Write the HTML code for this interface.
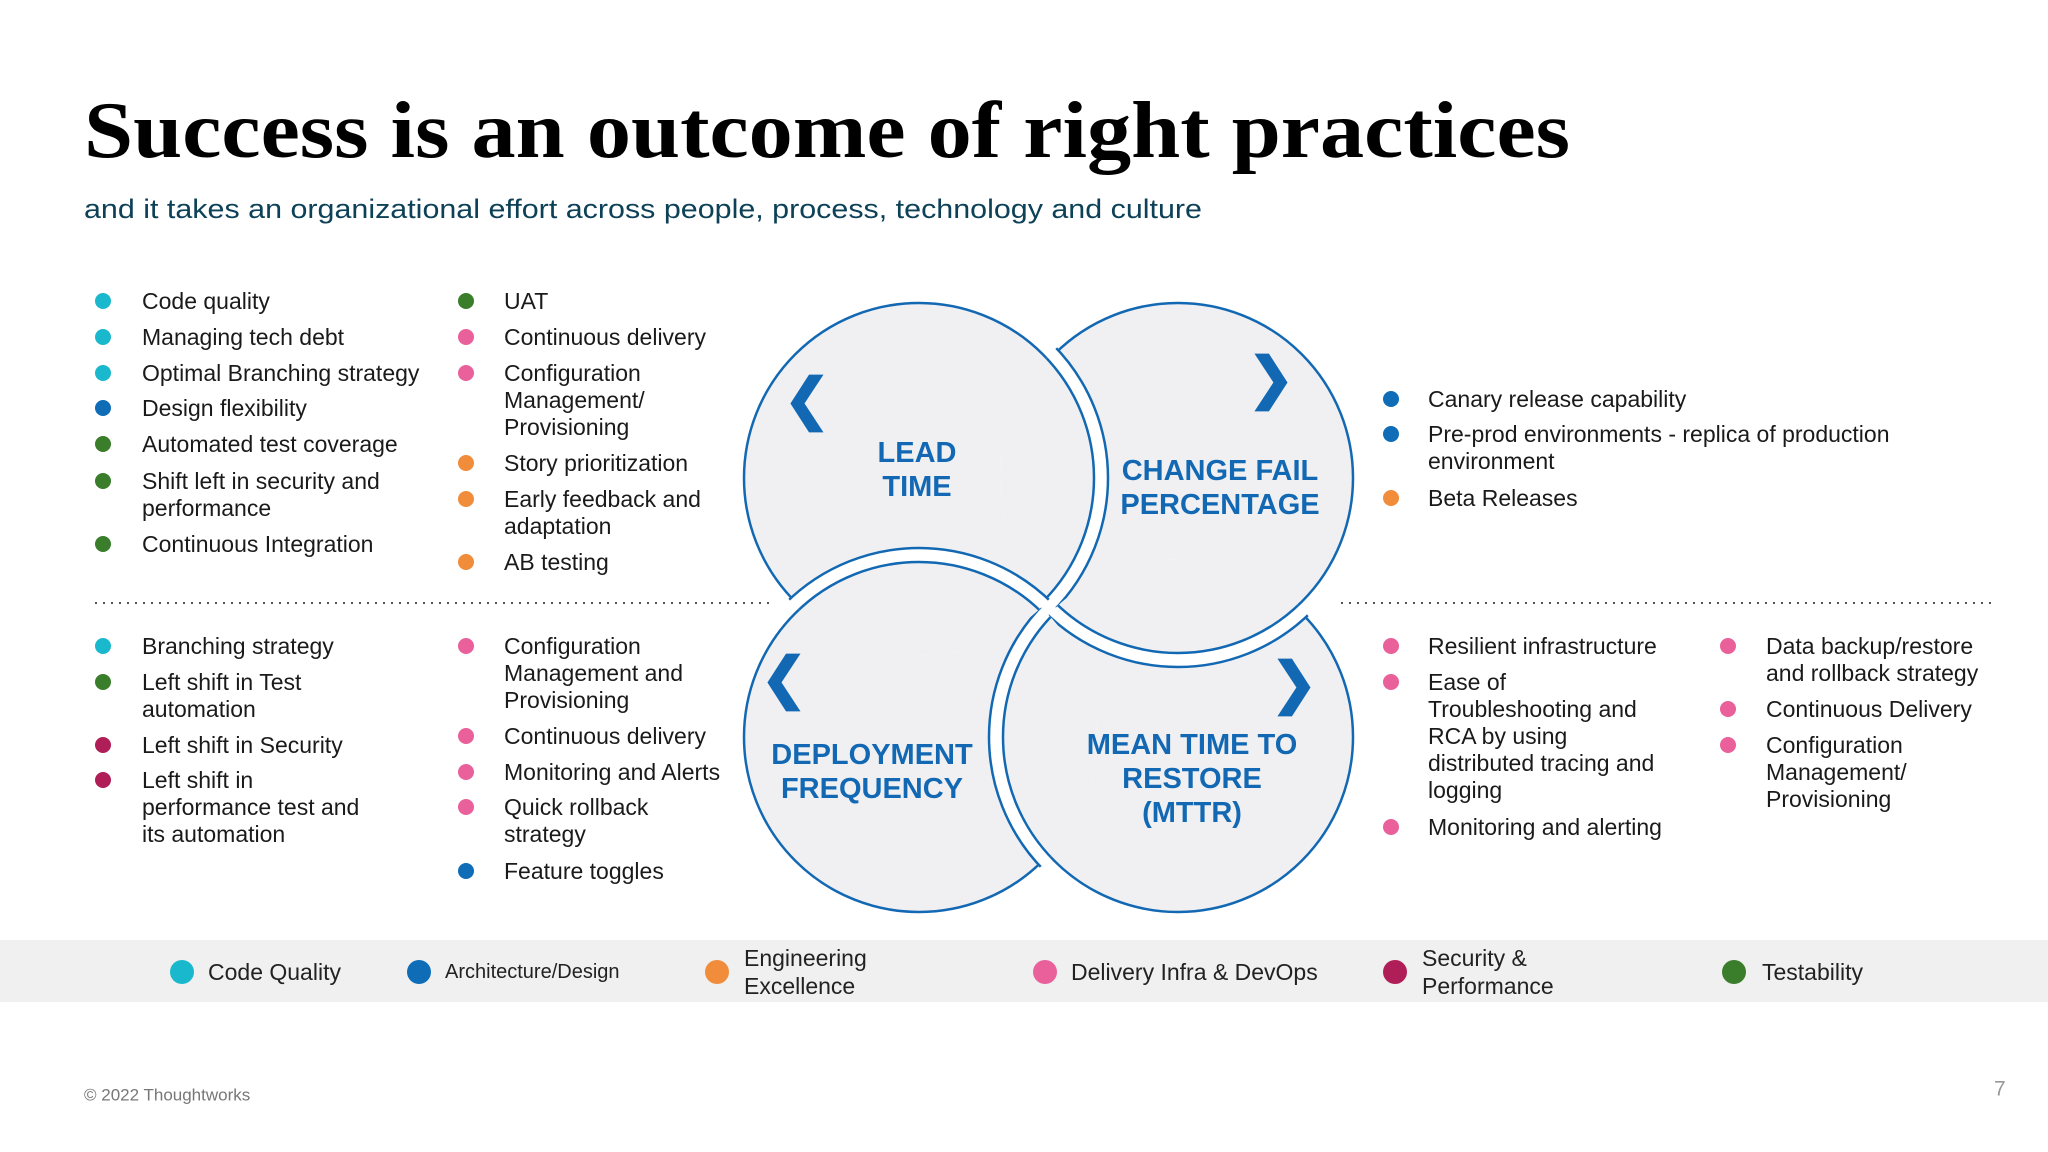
<!DOCTYPE html>
<html><head><meta charset="utf-8"><style>
html,body{margin:0;padding:0;background:#fff}
svg{display:block}
text{font-family:"Liberation Sans",sans-serif}
.t{font-size:23px;fill:#1a1a1a}
.lg{font-size:23px;fill:#222}
.lbl{font-size:29px;font-weight:bold;fill:#1268b3;text-anchor:middle}
.ch{font-size:56px;font-weight:bold;fill:#1268b3;text-anchor:middle}
</style></head><body>
<svg width="2048" height="1152" viewBox="0 0 2048 1152" xmlns="http://www.w3.org/2000/svg">
<defs>
<clipPath id="cL"><circle cx="919" cy="478" r="178"/></clipPath>
<clipPath id="cC"><circle cx="1178" cy="478" r="178"/></clipPath>
<clipPath id="cD"><circle cx="919" cy="737" r="178"/></clipPath>
<clipPath id="cM"><circle cx="1178" cy="737" r="178"/></clipPath>
</defs>
<rect width="2048" height="1152" fill="#fff"/>
<text x="84" y="157" font-family="Liberation Serif" font-weight="bold" font-size="80" fill="#000" textLength="1486" lengthAdjust="spacingAndGlyphs" style="font-family:'Liberation Serif',serif">Success is an outcome of right practices</text>
<text x="84" y="218" font-size="27" fill="#0d4157" textLength="1118" lengthAdjust="spacingAndGlyphs">and it takes an organizational effort across people, process, technology and culture</text>

<line x1="95" y1="603" x2="773" y2="603" stroke="#555" stroke-width="2" stroke-dasharray="2 6"/>
<line x1="1341" y1="603" x2="1994" y2="603" stroke="#555" stroke-width="2" stroke-dasharray="2 6"/>

<g fill="#f0f0f2" stroke="#1268b3" stroke-width="2.5">
<circle cx="919" cy="478" r="175"/>
<circle cx="1178" cy="478" r="175"/>
<circle cx="919" cy="737" r="175"/>
<circle cx="1178" cy="737" r="175"/>
</g>
<g stroke="#1268b3" stroke-width="2.5">
<g clip-path="url(#cC)"><circle cx="919" cy="478" r="189" fill="#fff"/><circle cx="919" cy="478" r="175" fill="#f0f0f2"/></g>
<g clip-path="url(#cM)"><circle cx="1178" cy="478" r="189" fill="#fff"/><circle cx="1178" cy="478" r="175" fill="#f0f0f2"/></g>
<g clip-path="url(#cD)"><circle cx="1178" cy="737" r="189" fill="#fff"/><circle cx="1178" cy="737" r="175" fill="#f0f0f2"/></g>
<g clip-path="url(#cL)"><circle cx="919" cy="737" r="189" fill="#fff"/><circle cx="919" cy="737" r="175" fill="#f0f0f2"/></g>
</g>
<text class="ch" x="807" y="418">❮</text>
<text class="ch" x="1271" y="397">❯</text>
<text class="ch" x="784" y="697">❮</text>
<text class="ch" x="1294" y="702">❯</text>
<text class="lbl" x="917" y="462">LEAD</text>
<text class="lbl" x="917" y="496">TIME</text>
<text class="lbl" x="1220" y="480">CHANGE FAIL</text>
<text class="lbl" x="1220" y="514">PERCENTAGE</text>
<text class="lbl" x="872" y="764">DEPLOYMENT</text>
<text class="lbl" x="872" y="798">FREQUENCY</text>
<text class="lbl" x="1192" y="754">MEAN TIME TO</text>
<text class="lbl" x="1192" y="788">RESTORE</text>
<text class="lbl" x="1192" y="822">(MTTR)</text>

<g dominant-baseline="central">
<circle cx="103" cy="301" r="8" fill="#1ab8cc"/><text class="t" x="142" y="301">Code quality</text>
<circle cx="103" cy="337" r="8" fill="#1ab8cc"/><text class="t" x="142" y="337">Managing tech debt</text>
<circle cx="103" cy="373" r="8" fill="#1ab8cc"/><text class="t" x="142" y="373">Optimal Branching strategy</text>
<circle cx="103" cy="408" r="8" fill="#0f6cb6"/><text class="t" x="142" y="408">Design flexibility</text>
<circle cx="103" cy="444" r="8" fill="#3a7d2a"/><text class="t" x="142" y="444">Automated test coverage</text>
<circle cx="103" cy="481" r="8" fill="#3a7d2a"/><text class="t" x="142" y="481">Shift left in security and</text><text class="t" x="142" y="508">performance</text>
<circle cx="103" cy="544" r="8" fill="#3a7d2a"/><text class="t" x="142" y="544">Continuous Integration</text>
<circle cx="466" cy="301" r="8" fill="#3a7d2a"/><text class="t" x="504" y="301">UAT</text>
<circle cx="466" cy="337" r="8" fill="#e9609b"/><text class="t" x="504" y="337">Continuous delivery</text>
<circle cx="466" cy="373" r="8" fill="#e9609b"/><text class="t" x="504" y="373">Configuration</text><text class="t" x="504" y="400">Management/</text><text class="t" x="504" y="427">Provisioning</text>
<circle cx="466" cy="463" r="8" fill="#f08c3a"/><text class="t" x="504" y="463">Story prioritization</text>
<circle cx="466" cy="499" r="8" fill="#f08c3a"/><text class="t" x="504" y="499">Early feedback and</text><text class="t" x="504" y="526">adaptation</text>
<circle cx="466" cy="562" r="8" fill="#f08c3a"/><text class="t" x="504" y="562">AB testing</text>
<circle cx="103" cy="646" r="8" fill="#1ab8cc"/><text class="t" x="142" y="646">Branching strategy</text>
<circle cx="103" cy="682" r="8" fill="#3a7d2a"/><text class="t" x="142" y="682">Left shift in Test</text><text class="t" x="142" y="709">automation</text>
<circle cx="103" cy="745" r="8" fill="#b01e57"/><text class="t" x="142" y="745">Left shift in Security</text>
<circle cx="103" cy="780" r="8" fill="#b01e57"/><text class="t" x="142" y="780">Left shift in</text><text class="t" x="142" y="807">performance test and</text><text class="t" x="142" y="834">its automation</text>
<circle cx="466" cy="646" r="8" fill="#e9609b"/><text class="t" x="504" y="646">Configuration</text><text class="t" x="504" y="673">Management and</text><text class="t" x="504" y="700">Provisioning</text>
<circle cx="466" cy="736" r="8" fill="#e9609b"/><text class="t" x="504" y="736">Continuous delivery</text>
<circle cx="466" cy="772" r="8" fill="#e9609b"/><text class="t" x="504" y="772">Monitoring and Alerts</text>
<circle cx="466" cy="807" r="8" fill="#e9609b"/><text class="t" x="504" y="807">Quick rollback</text><text class="t" x="504" y="834">strategy</text>
<circle cx="466" cy="871" r="8" fill="#0f6cb6"/><text class="t" x="504" y="871">Feature toggles</text>
<circle cx="1391" cy="399" r="8" fill="#0f6cb6"/><text class="t" x="1428" y="399">Canary release capability</text>
<circle cx="1391" cy="434" r="8" fill="#0f6cb6"/><text class="t" x="1428" y="434">Pre-prod environments - replica of production</text><text class="t" x="1428" y="461">environment</text>
<circle cx="1391" cy="498" r="8" fill="#f08c3a"/><text class="t" x="1428" y="498">Beta Releases</text>
<circle cx="1391" cy="646" r="8" fill="#e9609b"/><text class="t" x="1428" y="646">Resilient infrastructure</text>
<circle cx="1391" cy="682" r="8" fill="#e9609b"/><text class="t" x="1428" y="682">Ease of</text><text class="t" x="1428" y="709">Troubleshooting and</text><text class="t" x="1428" y="736">RCA by using</text><text class="t" x="1428" y="763">distributed tracing and</text><text class="t" x="1428" y="790">logging</text>
<circle cx="1391" cy="827" r="8" fill="#e9609b"/><text class="t" x="1428" y="827">Monitoring and alerting</text>
<circle cx="1728" cy="646" r="8" fill="#e9609b"/><text class="t" x="1766" y="646">Data backup/restore</text><text class="t" x="1766" y="673">and rollback strategy</text>
<circle cx="1728" cy="709" r="8" fill="#e9609b"/><text class="t" x="1766" y="709">Continuous Delivery</text>
<circle cx="1728" cy="745" r="8" fill="#e9609b"/><text class="t" x="1766" y="745">Configuration</text><text class="t" x="1766" y="772">Management/</text><text class="t" x="1766" y="799">Provisioning</text>

<rect x="0" y="940" width="2048" height="62" fill="#f0f0f0"/>
<circle cx="182" cy="972" r="12" fill="#1ab8cc"/><text class="lg" x="208" y="972">Code Quality</text>
<circle cx="419" cy="972" r="12" fill="#0f6cb6"/><text class="lg" x="445" y="972" style="font-size:20px">Architecture/Design</text>
<circle cx="717" cy="972" r="12" fill="#f08c3a"/><text class="lg" x="744" y="958">Engineering</text><text class="lg" x="744" y="986">Excellence</text>
<circle cx="1045" cy="972" r="12" fill="#e9609b"/><text class="lg" x="1071" y="972">Delivery Infra &amp; DevOps</text>
<circle cx="1395" cy="972" r="12" fill="#b01e57"/><text class="lg" x="1422" y="958">Security &amp;</text><text class="lg" x="1422" y="986">Performance</text>
<circle cx="1734" cy="972" r="12" fill="#3a7d2a"/><text class="lg" x="1762" y="972">Testability</text>

<text x="84" y="1095" font-size="17" fill="#777">© 2022 Thoughtworks</text>
<text x="1994" y="1089" font-size="21" fill="#999">7</text>
</g>
</svg>
</body></html>
